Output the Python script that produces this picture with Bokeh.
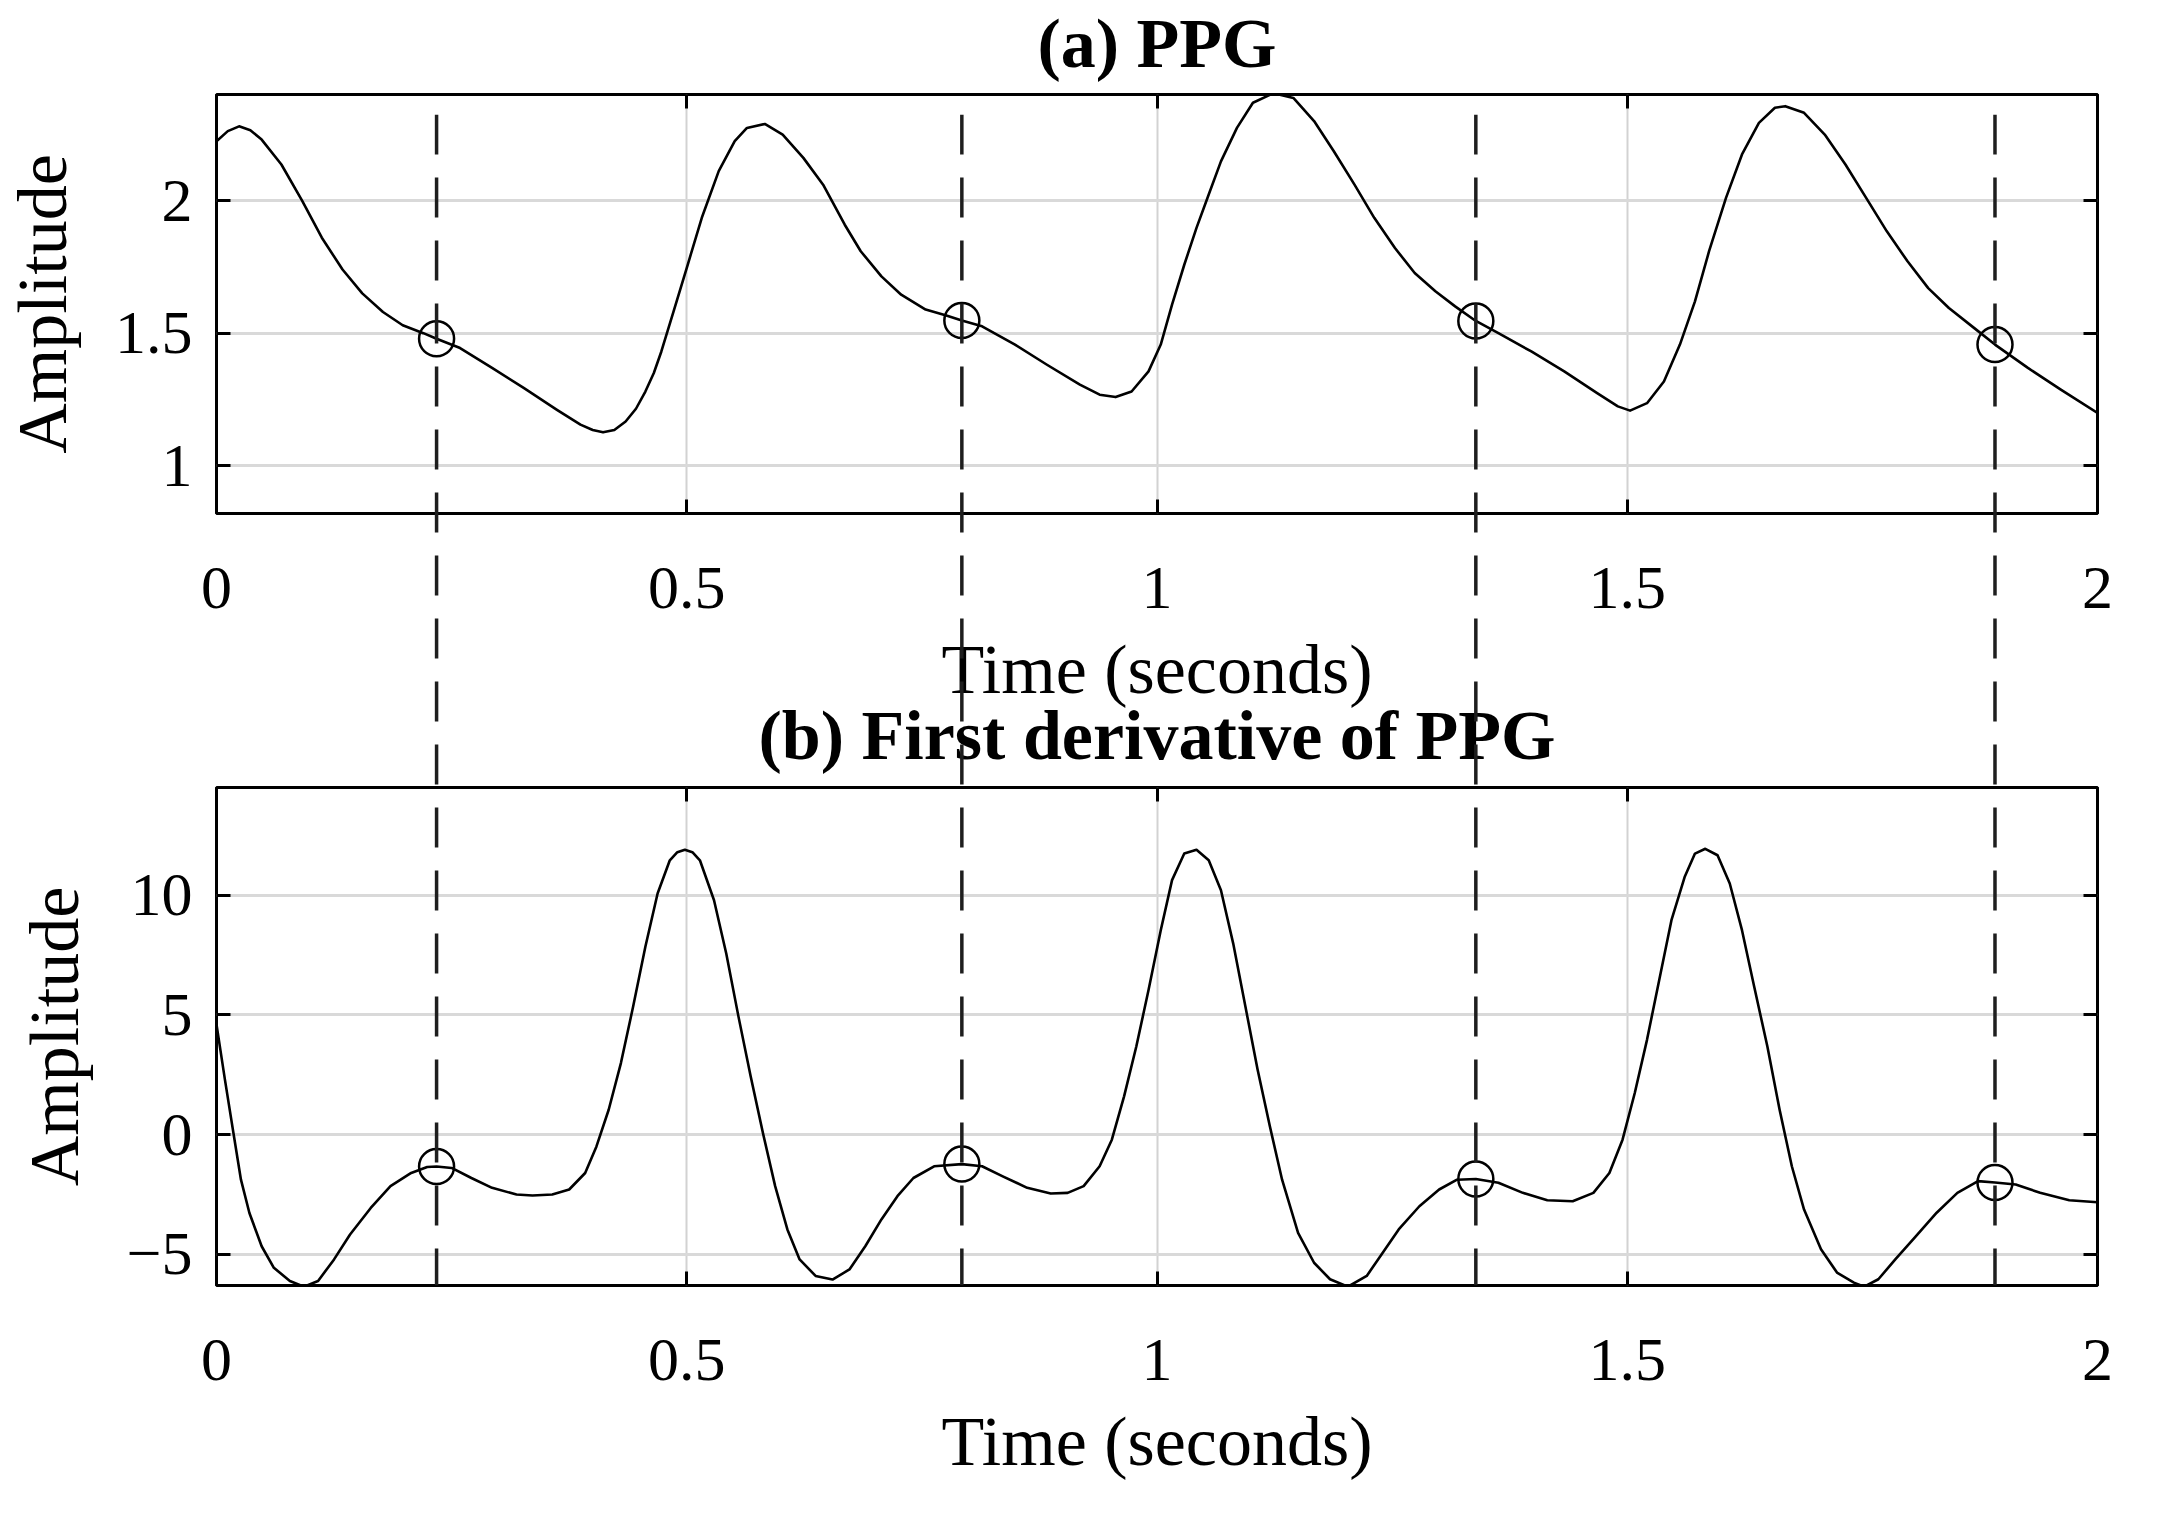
from bokeh.plotting import figure
from bokeh.models import (Range1d, FixedTicker, LinearAxis, CustomJSTickFormatter,
                          GridBox)
from bokeh.embed import file_html
from bokeh.resources import INLINE

# ---- PPG signal (seconds, amplitude) ----
ppg_t = [0.000, 0.012, 0.024, 0.036, 0.048, 0.069, 0.091, 0.112, 0.134, 0.155,
         0.177, 0.198, 0.220, 0.234, 0.259, 0.293, 0.327, 0.362, 0.387, 0.400,
         0.411, 0.423, 0.435, 0.446, 0.456, 0.465, 0.473, 0.486, 0.501, 0.516,
         0.534, 0.551, 0.564, 0.583, 0.602, 0.624, 0.645, 0.668, 0.685, 0.707,
         0.728, 0.754, 0.776, 0.7925, 0.814, 0.849, 0.883, 0.918, 0.939, 0.956,
         0.973, 0.991, 1.004, 1.016, 1.029, 1.042, 1.055, 1.068, 1.085, 1.102,
         1.124, 1.145, 1.167, 1.188, 1.210, 1.231, 1.253, 1.274, 1.296, 1.317,
         1.339, 1.363, 1.398, 1.433, 1.468, 1.490, 1.503, 1.521, 1.539, 1.556,
         1.572, 1.587, 1.605, 1.622, 1.640, 1.657, 1.668, 1.688, 1.710, 1.732,
         1.754, 1.776, 1.798, 1.820, 1.842, 1.869, 1.891, 1.926, 1.961, 2.000]
ppg_v = [2.224, 2.262, 2.280, 2.265, 2.230, 2.136, 2.000, 1.860, 1.740, 1.650,
         1.580, 1.530, 1.500, 1.479, 1.444, 1.369, 1.293, 1.211, 1.155, 1.135,
         1.126, 1.135, 1.167, 1.215, 1.280, 1.350, 1.431, 1.582, 1.758, 1.935,
         2.111, 2.224, 2.274, 2.289, 2.249, 2.161, 2.060, 1.909, 1.809, 1.714,
         1.645, 1.589, 1.567, 1.548, 1.526, 1.457, 1.381, 1.306, 1.268, 1.259,
         1.280, 1.356, 1.457, 1.608, 1.758, 1.897, 2.023, 2.148, 2.274, 2.369,
         2.405, 2.387, 2.300, 2.186, 2.060, 1.935, 1.821, 1.727, 1.658, 1.601,
         1.546, 1.500, 1.431, 1.356, 1.274, 1.224, 1.208, 1.236, 1.318, 1.457,
         1.620, 1.809, 2.010, 2.174, 2.293, 2.350, 2.356, 2.331, 2.249, 2.136,
         2.010, 1.884, 1.771, 1.670, 1.595, 1.519, 1.457, 1.369, 1.287, 1.199]

# ---- first derivative of PPG ----
dppg_t = [0.000, 0.009, 0.018, 0.026, 0.035, 0.048, 0.061, 0.078, 0.093, 0.108,
          0.125, 0.142, 0.164, 0.185, 0.207, 0.224, 0.234, 0.250, 0.271, 0.293,
          0.319, 0.336, 0.357, 0.375, 0.392, 0.404, 0.417, 0.430, 0.443, 0.456,
          0.469, 0.482, 0.490, 0.498, 0.506, 0.514, 0.529, 0.542, 0.555, 0.568,
          0.581, 0.594, 0.607, 0.620, 0.637, 0.655, 0.673, 0.690, 0.707, 0.724,
          0.741, 0.763, 0.7925, 0.814, 0.836, 0.862, 0.887, 0.905, 0.922, 0.939,
          0.952, 0.965, 0.978, 0.991, 1.004, 1.016, 1.029, 1.042, 1.055, 1.068,
          1.081, 1.094, 1.107, 1.120, 1.133, 1.150, 1.167, 1.184, 1.203, 1.223,
          1.240, 1.257, 1.279, 1.300, 1.319, 1.339, 1.363, 1.389, 1.415, 1.442,
          1.464, 1.481, 1.495, 1.508, 1.521, 1.534, 1.547, 1.561, 1.572, 1.583,
          1.596, 1.609, 1.622, 1.635, 1.649, 1.662, 1.675, 1.688, 1.706, 1.723,
          1.741, 1.752, 1.767, 1.785, 1.807, 1.829, 1.851, 1.873, 1.891, 1.913,
          1.939, 1.970, 2.000]
dppg_v = [4.60, 2.29, 0.07, -1.88, -3.27, -4.66, -5.56, -6.11, -6.35, -6.11,
          -5.21, -4.17, -3.06, -2.15, -1.60, -1.35, -1.33, -1.39, -1.81, -2.22,
          -2.50, -2.54, -2.50, -2.29, -1.60, -0.49, 1.04, 2.99, 5.35, 7.85,
          10.07, 11.46, 11.80, 11.90, 11.80, 11.46, 9.79, 7.57, 4.93, 2.43,
          0.07, -2.15, -3.96, -5.21, -5.90, -6.05, -5.63, -4.65, -3.54, -2.57,
          -1.81, -1.32, -1.23, -1.32, -1.74, -2.22, -2.46, -2.43, -2.15, -1.32,
          -0.21, 1.60, 3.68, 6.04, 8.54, 10.63, 11.74, 11.90, 11.46, 10.21,
          7.99, 5.35, 2.71, 0.35, -1.88, -4.10, -5.35, -6.04, -6.35, -5.90,
          -4.93, -3.96, -2.99, -2.29, -1.88, -1.85, -2.01, -2.43, -2.74, -2.78,
          -2.43, -1.60, -0.21, 1.74, 3.96, 6.46, 8.96, 10.76, 11.74, 11.94,
          11.67, 10.49, 8.54, 6.18, 3.68, 1.04, -1.32, -3.13, -4.79, -5.76,
          -6.18, -6.35, -6.04, -5.21, -4.24, -3.26, -2.43, -1.94, -2.00, -2.08,
          -2.43, -2.74, -2.82]

# ---- detected fiducial points ----
event_t = [0.234, 0.7925, 1.339, 1.891]
ppg_event_v = [1.479, 1.548, 1.546, 1.457]
dppg_event_v = [-1.33, -1.23, -1.85, -2.00]

# ---- axes ----
x_ticks = [0, 0.5, 1, 1.5, 2]
ppg_ticks = [1, 1.5, 2]
dppg_ticks = [-5, 0, 5, 10]
x_limits = (0, 2)
ppg_limits = (0.82, 2.40)
dppg_limits = (-6.3, 14.5)

FONT = "Liberation Serif"
W = 2157
TOTAL_H = 1517

num_fmt = CustomJSTickFormatter(code="return String(tick).replace('-', '\u2212');")
blank_fmt = CustomJSTickFormatter(code="return '';")


def make_panel(title, ylim, yticks, height, border_top, border_bottom,
               title_standoff):
    p = figure(width=W, height=height, output_backend="svg", toolbar_location=None,
               x_range=Range1d(*x_limits), y_range=Range1d(*ylim),
               min_border_left=212, min_border_right=60,
               min_border_top=border_top, min_border_bottom=border_bottom,
               title=title)
    p.title.align = "center"
    p.title.text_font = FONT
    p.title.text_font_size = "70px"
    p.title.text_font_style = "bold"
    p.title.text_color = "black"
    p.title.standoff = title_standoff

    p.outline_line_color = "black"
    p.outline_line_width = 3
    p.background_fill_color = "white"
    p.border_fill_color = None

    xt = FixedTicker(ticks=x_ticks)
    yt = FixedTicker(ticks=yticks)

    p.add_layout(LinearAxis(ticker=xt, formatter=blank_fmt), "above")
    p.add_layout(LinearAxis(ticker=yt, formatter=blank_fmt), "right")

    for ax in p.xaxis:
        ax.ticker = xt
    for ax in p.yaxis:
        ax.ticker = yt
    for ax in p.axis:
        ax.axis_line_color = None
        ax.major_tick_in = 14
        ax.major_tick_out = 0
        ax.major_tick_line_width = 3
        ax.major_tick_line_color = "black"
        ax.minor_tick_line_color = None
        ax.major_label_text_font = FONT
        ax.major_label_text_font_size = "62px"
        ax.major_label_text_color = "black"
        ax.axis_label_text_font = FONT
        ax.axis_label_text_font_size = "70px"
        ax.axis_label_text_font_style = "normal"
        ax.axis_label_text_color = "black"

    xa = p.below[0]
    xa.formatter = num_fmt
    xa.axis_label = "Time (seconds)"
    xa.major_label_standoff = 54
    xa.axis_label_standoff = 20

    ya = p.left[0]
    ya.formatter = num_fmt
    ya.axis_label = "Amplitude"
    ya.major_label_standoff = 24
    ya.axis_label_standoff = 31

    p.xgrid.ticker = xt
    p.ygrid.ticker = yt
    p.xgrid.grid_line_color = "#d2d2d2"
    p.xgrid.grid_line_width = 2
    p.ygrid.grid_line_color = "#d9d9d9"
    p.ygrid.grid_line_width = 3
    return p


# vertical layout (pixels): panel (a) frame 94..513, panel (b) frame 787..1285
P1_BORDER_TOP = 114
TOP_SHIFT = P1_BORDER_TOP - 94   # panel (a) is lifted by a negative top margin
P1_BORDER_BOTTOM = 240
P1_H = P1_BORDER_TOP + (513 - 94) + P1_BORDER_BOTTOM
P2_BORDER_TOP = 120
P2_TOP = 787 - P2_BORDER_TOP
P2_H = TOTAL_H - P2_TOP

# (a) PPG
p1 = make_panel("(a) PPG", ppg_limits, ppg_ticks, P1_H, P1_BORDER_TOP,
                P1_BORDER_BOTTOM, 25)
p1.margin = (-TOP_SHIFT, 0, 0, 0)
p1.line(ppg_t, ppg_v, line_color="black", line_width=2.6, line_join="round")
p1.scatter(event_t, ppg_event_v, marker="circle", size=35, fill_color=None,
           line_color="black", line_width=2.5)

# (b) first derivative
p2 = make_panel("(b) First derivative of PPG", dppg_limits, dppg_ticks,
                P2_H, P2_BORDER_TOP, TOTAL_H - 1285, 27)
p2.line(dppg_t, dppg_v, line_color="black", line_width=2.6, line_join="round")
p2.scatter(event_t, dppg_event_v, marker="circle", size=35, fill_color=None,
           line_color="black", line_width=2.5)

# transparent overlay carrying the dashed event lines across both panels
span_limits = (0, 1)
p3 = figure(width=W, height=TOTAL_H, output_backend="svg", toolbar_location=None,
            x_range=Range1d(*x_limits), y_range=Range1d(*span_limits),
            x_axis_type=None, y_axis_type=None,
            min_border_left=212, min_border_right=60,
            min_border_top=94, min_border_bottom=TOTAL_H - 1285)
p3.outline_line_color = None
p3.background_fill_color = None
p3.border_fill_color = None
p3.grid.visible = False
n = len(event_t)
p3.segment(x0=event_t, y0=[span_limits[1]] * n, x1=event_t, y1=[span_limits[0]] * n,
           line_color="#1e1e1e", line_width=3.5, line_dash="40 23")

# grid rows: panel (a) occupies rows 0-1, panel (b) rows 1-2, overlay all
rows = [f"{P2_TOP}px", f"{P1_H - P2_TOP}px", f"{TOTAL_H - P1_H}px"]
layout = GridBox(children=[(p1, 0, 0, 2, 1), (p2, 1, 0, 2, 1), (p3, 0, 0, 3, 1)],
                 rows=rows, cols=[f"{W}px"], spacing=0)
open("out.html", "w").write(file_html(layout, INLINE))
